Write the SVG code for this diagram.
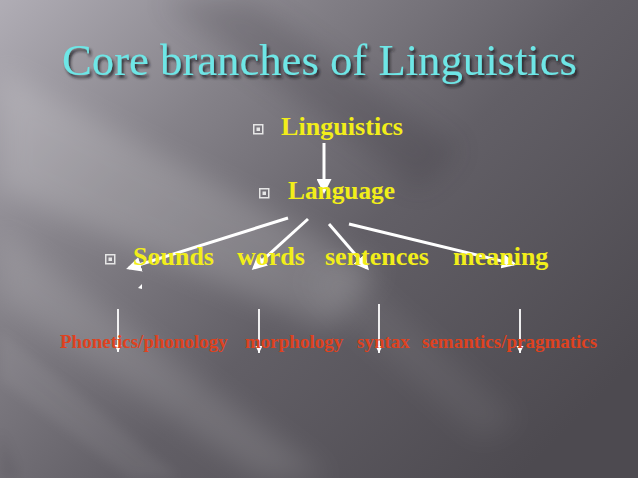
<svg xmlns="http://www.w3.org/2000/svg" width="638" height="478" viewBox="0 0 638 478">
<defs>
<linearGradient id="bg" x1="0" y1="0" x2="1" y2="0.75">
<stop offset="0" stop-color="#b0adb5"/>
<stop offset="0.3" stop-color="#858289"/>
<stop offset="0.6" stop-color="#625f66"/>
<stop offset="1" stop-color="#4d4a50"/>
</linearGradient>
<filter id="soft" x="-20%" y="-20%" width="140%" height="140%">
<feGaussianBlur stdDeviation="14"/>
</filter>
<filter id="soft2" x="-20%" y="-20%" width="140%" height="140%">
<feGaussianBlur stdDeviation="6"/>
</filter>
<filter id="shadow" x="-10%" y="-30%" width="120%" height="160%">
<feGaussianBlur in="SourceAlpha" stdDeviation="1.5"/>
<feOffset dx="2" dy="3" result="b"/>
<feFlood flood-color="#1a1a1f" flood-opacity="0.85"/>
<feComposite in2="b" operator="in"/>
<feMerge><feMergeNode/><feMergeNode in="SourceGraphic"/></feMerge>
</filter>
<marker id="big" markerWidth="5" markerHeight="5" refX="4" refY="2.5" orient="auto" markerUnits="strokeWidth">
<path d="M0,0 L5,2.5 L0,5 Z" fill="#ffffff"/>
</marker>
<marker id="small" markerWidth="4" markerHeight="4" refX="4" refY="2" orient="auto" markerUnits="strokeWidth">
<path d="M0,0 L4,2 L0,4 Z" fill="#ffffff"/>
</marker>
<g id="bullet">
<rect x="0.75" y="0.75" width="9" height="9" fill="none" stroke="#e6e6e6" stroke-width="1.5"/>
<rect x="3.5" y="3.5" width="3.5" height="3.5" fill="#e6e6e6"/>
</g>
</defs>
<style>
.node{font-family:"Liberation Serif","Times New Roman",serif;font-weight:bold;font-size:26px;fill:#f2ee1a}
.leaf{font-family:"Liberation Serif","Times New Roman",serif;font-weight:bold;font-size:19px;fill:#de4220}
.title{font-family:"Liberation Serif","Times New Roman",serif;font-size:45px;fill:#6ee6e6}
.thick{stroke:#ffffff;stroke-width:3;fill:none;marker-end:url(#big)}
.thin{stroke:#ffffff;stroke-width:1.8;fill:none;marker-end:url(#small)}
</style>
<rect width="638" height="478" fill="url(#bg)"/>
<g id="streaks">
<polygon points="0,70 0,190 330,330 380,270" fill="#ffffff" opacity="0.16" filter="url(#soft)"/>
<polygon points="160,0 250,0 460,150 420,190" fill="#2a282d" opacity="0.18" filter="url(#soft)"/>
<polygon points="0,230 0,300 260,478 330,478" fill="#ffffff" opacity="0.12" filter="url(#soft)"/>
<polygon points="0,330 0,380 130,478 180,478" fill="#ffffff" opacity="0.06" filter="url(#soft2)"/>
<polygon points="300,280 340,260 520,420 480,440" fill="#ffffff" opacity="0.06" filter="url(#soft)"/>
<polygon points="0,430 0,478 20,478" fill="#2a282d" opacity="0.1" filter="url(#soft2)"/>
</g>
<text id="title" class="title" x="62" y="75" textLength="515" lengthAdjust="spacingAndGlyphs" filter="url(#shadow)">Core branches of Linguistics</text>
<g id="connectors">
<line class="thick" x1="324" y1="143" x2="324" y2="191"/>
<line class="thick" x1="288" y1="218" x2="129" y2="268"/>
<line class="thick" x1="308" y1="219" x2="254" y2="268"/>
<line class="thick" x1="329" y1="224" x2="367" y2="268"/>
<line class="thick" x1="349" y1="224" x2="514" y2="264"/>
<polygon points="138,288 142,284 142,289" fill="#ffffff"/>
<line class="thin" x1="118" y1="309" x2="118" y2="352"/>
<line class="thin" x1="259" y1="309" x2="259" y2="353"/>
<line class="thin" x1="379" y1="304" x2="379" y2="353"/>
<line class="thin" x1="520" y1="309" x2="520" y2="353"/>
</g>
<g id="linguistics">
<use href="#bullet" x="253" y="124"/>
<text class="node" x="281" y="135" textLength="122" lengthAdjust="spacingAndGlyphs">Linguistics</text>
</g>
<g id="language">
<use href="#bullet" x="259" y="188"/>
<text class="node" x="288" y="199" textLength="107" lengthAdjust="spacingAndGlyphs">Language</text>
</g>
<g id="level3">
<use href="#bullet" x="105" y="254"/>
<text class="node" y="265"><tspan x="133">Sounds</tspan><tspan x="237">words</tspan><tspan x="325">sentences</tspan><tspan x="453">meaning</tspan></text>
</g>
<g id="branches">
<text class="leaf" y="348"><tspan x="60">Phonetics/phonology</tspan><tspan x="245">morphology</tspan><tspan x="357">syntax</tspan><tspan x="422">semantics/pragmatics</tspan></text>
</g>
</svg>
